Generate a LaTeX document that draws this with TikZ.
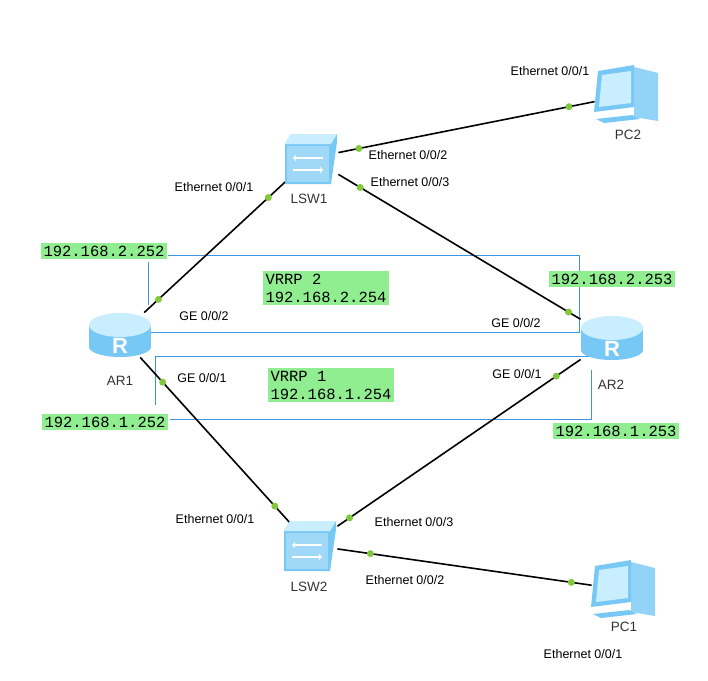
\documentclass[tikz,border=0pt]{standalone}
\usepackage{fontspec}
\setmainfont{Liberation Sans}
\newfontfamily\ipfont{Liberation Mono}
\usetikzlibrary{positioning}
\definecolor{devblue}{RGB}{120,200,245}
\definecolor{devlight}{RGB}{200,238,255}
\definecolor{ipgreen}{RGB}{144,238,144}
\definecolor{vrrpblue}{RGB}{60,150,230}
\definecolor{portgreen}{RGB}{130,200,60}

\begin{document}
\begin{tikzpicture}[x=1pt,y=-1pt,thick,
	dev node/.style={inner sep=0pt, minimum width=#1, minimum height=44},
	name node/.style={font=\fontsize{13.5}{15}\selectfont, text=black!80},
	port node/.style={font=\fontsize{12.5}{14}\selectfont},
	ip node/.style={fill=ipgreen, inner sep=2.5pt, font=\ipfont\fontsize{15.5}{18}\selectfont, align=left},
	dot/.style={circle, fill=portgreen, inner sep=0pt, minimum size=7pt},
	link/.style={black, line width=1.6pt},
	vrrp/.style={vrrpblue, line width=1pt}]
	
	\useasboundingbox (0,0) rectangle (708,680);
	
	% devices
	\node[dev node=54](LSW1) at (311,158){};
		\node[name node] at (309,199){LSW1};
	\node[dev node=54](LSW2) at (310,545){};
		\node[name node] at (309,587){LSW2};
	\node[dev node=62](AR1) at (120,335){};
		\node[name node] at (120,381){AR1};
	\node[dev node=62](AR2) at (612,338){};
		\node[name node] at (611,385){AR2};
	\node[dev node=66](PC2) at (628,95){};
		\node[name node] at (628,135){PC2};
	\node[dev node=66](PC1) at (625,590){};
		\node[name node] at (624,627){PC1};
	
	% vrrp frames
	\draw[vrrp] (168,255) -- (579,255) -- (579,332) -- (150,332);
	\draw[vrrp] (148,262) -- (148,305);
	\draw[vrrp] (591,356) -- (155,356) -- (155,405);
	\draw[vrrp] (170,419) -- (591,419) -- (591,370);
	
	% links
	\draw[link] (LSW1) -- (PC2) node[dot, pos=0.08]{} node[dot, pos=0.9]{};
	\draw[link] (LSW1) -- (AR1) node[dot, pos=0.13]{} node[dot, pos=0.9]{};
	\draw[link] (LSW1) -- (AR2) node[dot, pos=0.09]{} node[dot, pos=0.95]{};
	\draw[link] (AR1) -- (LSW2) node[dot, pos=0.15]{} node[dot, pos=0.9]{};
	\draw[link] (AR2) -- (LSW2) node[dot, pos=0.1]{} node[dot, pos=0.95]{};
	\draw[link] (LSW2) -- (PC1) node[dot, pos=0.13]{} node[dot, pos=0.92]{};
	
	% switch icons
	\foreach \s in {LSW1,LSW2}{
		\fill[devblue] ([shift={(-26,-14)}]\s.center) -- ++(6,-10) -- ++(46,0) -- ++(0,8) -- ++(-6,42) -- ++(-46,0) -- cycle;
		\fill[devlight] ([shift={(-26,-14)}]\s.center) -- ++(6,-10) -- ++(46,0) -- ++(-6,10) -- cycle;
		\fill[devblue!70] ([shift={(-24,-12)}]\s.center) rectangle ++(42,36);
		\draw[white, line width=1.2pt, ->] ([shift={(12,0)}]\s.center) -- ++(-30,0);
		\draw[white, line width=1.2pt, ->] ([shift={(-18,12)}]\s.center) -- ++(30,0);
	}
	% router icons
	\foreach \r in {AR1,AR2}{
		\fill[devblue] ([shift={(-31,-10)}]\r.center) rectangle ([shift={(31,12)}]\r.center);
		\fill[devblue] ([shift={(0,12)}]\r.center) ellipse[x radius=31, y radius=10];
		\fill[devlight] ([shift={(0,-10)}]\r.center) ellipse[x radius=31, y radius=12];
		\node[white, font=\bfseries\fontsize{22}{22}\selectfont] at ([shift={(0,11)}]\r.center){R};
	}
	% pc icons
	\foreach \p in {PC1,PC2}{
		\fill[devblue!80] ([shift={(6,-28)}]\p.center) -- ++(24,6) -- ++(0,48) -- ++(-24,-4) -- cycle;
		\fill[devblue] ([shift={(-30,-24)}]\p.center) -- ++(36,-6) -- ++(0,42) -- ++(-40,5) -- cycle;
		\fill[devlight] ([shift={(-26,-20)}]\p.center) -- ++(29,-4) -- ++(0,32) -- ++(-32,4) -- cycle;
		\fill[devblue] ([shift={(-32,24)}]\p.center) -- ++(36,-4) -- ++(8,4) -- ++(-36,4) -- cycle;
	}
	
	% ip labels
	\node[ip node] at (104,251){192.168.2.252};
	\node[ip node] at (105,422){192.168.1.252};
	\node[ip node] at (612,279){192.168.2.253};
	\node[ip node] at (616,431){192.168.1.253};
	\node[ip node] at (326,288){VRRP 2\\192.168.2.254};
	\node[ip node] at (331,385){VRRP 1\\192.168.1.254};
	
	% port labels
	\node[port node] at (214,187){Ethernet 0/0/1};
	\node[port node] at (408,155){Ethernet 0/0/2};
	\node[port node] at (410,182){Ethernet 0/0/3};
	\node[port node] at (550,71){Ethernet 0/0/1};
	\node[port node] at (204,316){GE 0/0/2};
	\node[port node] at (202,378){GE 0/0/1};
	\node[port node] at (516,323){GE 0/0/2};
	\node[port node] at (517,374){GE 0/0/1};
	\node[port node] at (215,519){Ethernet 0/0/1};
	\node[port node] at (414,522){Ethernet 0/0/3};
	\node[port node] at (405,580){Ethernet 0/0/2};
	\node[port node] at (583,654){Ethernet 0/0/1};
\end{tikzpicture}
\end{document}
